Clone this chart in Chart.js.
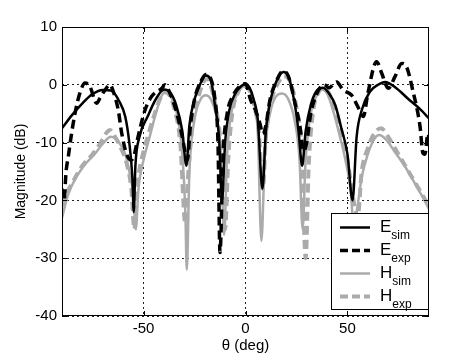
<!DOCTYPE html>
<html>
<head>
<meta charset="utf-8">
<script src="https://cdn.jsdelivr.net/npm/chart.js@4/dist/chart.umd.min.js"></script>
<style>
html,body{margin:0;padding:0;background:#fff;}
canvas{display:block;}
</style>
</head>
<body>
<canvas id="c" width="474" height="355"></canvas>
<script>
// ---- data (theta in degrees, magnitude in dB) ----
const xTicks = [-50, 0, 50];
const yTicks = [-40, -30, -20, -10, 0, 10];

const thetaEsim = [-90,-85,-80,-75,-70,-66,-62,-59,-57,-55.5,-54.8,-54,-52,-48,-44,-40,-37,-34,-31,-29,-27.5,-25,-22,-19.5,-17,-15,-13,-11.5,-10,-8,-5,-2,0,2,4,6,8.3,10,12,15,18.5,21,24,26,27.8,29.5,32,35,38,41,44,47,50,52.5,54.5,57,61,65,68.5,74,80,85,90];
const valEsim   = [-7.5,-5.2,-3.2,-1.6,-0.9,-1.0,-2.8,-5.5,-10,-16,-22,-14,-9,-5.5,-2.5,-0.8,-1.3,-3.5,-8,-14,-7,-2.5,0.3,1.6,0.8,-3.5,-9,-20,-10,-4.5,-1.5,-0.2,0.2,-0.5,-2.5,-6,-18,-8,-3,0.5,2.2,1.5,-3,-8,-14,-8,-3.5,-1,-0.5,-1.5,-3.5,-7.5,-12,-20,-9,-4.4,-1.2,0,0.5,-0.6,-2.5,-4,-5.8];

const thetaEexp = [-90,-89,-88,-86.9,-85.3,-83.6,-81.2,-78.7,-76.3,-73,-71.4,-68.9,-66.5,-64.8,-62.4,-60.7,-58.3,-56,-54.5,-52.7,-49.3,-46,-41,-39.5,-37,-34,-31,-28.5,-27,-25,-22,-19.5,-17,-15,-13.5,-12.5,-11,-9,-6,-3,0,2.5,5,7,8.5,10,12,15,18.5,21,24.3,26.7,28.5,30,32,35,38.5,41,44.7,47.9,52,56,57.8,60,64.3,66.8,70,73.3,76.6,79,82,85.6,87,88,89.5,90];
const valEexp   = [-18,-20,-15,-12.4,-8.4,-4.9,-1.4,0.3,-0.3,-3.2,-2.3,-0.9,0,-1.2,-4.4,-8.4,-12,-13,-12,-9,-4.4,-2,-0.6,0,-1.5,-4.5,-9,-13,-7,-2.5,0.5,1.8,1,-2.5,-10,-29,-12,-5,-1.8,-0.3,0.2,-2.6,-4.5,-6.6,-8.5,-7,-2.6,0.5,2.4,1.5,-3.2,-7.2,-11.5,-10,-5,-1.5,0,-0.5,0.5,-0.9,-1.8,-4.4,-5.5,-1.5,4,2,-0.6,1.4,3.7,3.1,-0.9,-7.2,-11.8,-12,-8.4,-9];

const thetaHsim = [-90,-87,-83,-78,-74,-70,-66,-62,-59,-57,-55,-53.8,-52.5,-50,-47,-44,-41,-39,-36,-33,-31,-29.5,-28.8,-27.5,-25,-22,-19.5,-17,-14,-12,-10.5,-9,-7,-4,-1,1,4,6,7.8,9.5,12,15,18,21,24,26.5,28,29.5,32,35,37.5,40,43,46,49,51.5,53,54.5,57,60,63,65.5,69,73,78,83,87,90];
const valHsim   = [-23,-19,-16,-13.5,-12,-10.2,-9,-10,-12,-15,-19,-25,-18,-13,-9,-5,-1.8,-1.2,-2.5,-6,-12,-22,-32,-15,-6,-2.5,-1.8,-2.5,-6,-12,-26,-12,-5,-1.5,-0.3,-0.5,-3,-8,-27,-12,-5,-2,-1.5,-2.5,-6,-13,-25,-13,-5,-1.8,-0.8,-1.5,-4.5,-8.5,-13,-18,-24,-22,-16,-12,-9.5,-8.7,-9.5,-11.5,-14,-17,-19.5,-21.5];

const thetaHexp = [-90,-88,-85,-80,-75,-71,-68,-66.5,-64,-61,-58,-56,-54.5,-53,-51,-48,-45,-42,-40,-38,-35,-32,-29.5,-28,-26,-23,-20,-18.5,-16,-14,-12,-10,-8.5,-6.5,-3.5,-0.5,2,4.5,6.5,8.5,10,12.5,15.5,19,22,25,27.5,29.5,31,33,36,38.5,41,44,47,50,53,55,57,60,63,66.5,70,75,80,85,90];
const valHexp   = [-21,-19,-17,-14,-12,-10,-8.2,-7.8,-9,-11,-14,-18,-25,-17,-13,-9,-5.5,-2.5,-1.3,-1.5,-4,-10,-24,-15,-7,-2,0.8,1,-1.5,-5,-11,-25,-13,-5,-1.2,0,-1,-4,-8,-18,-9,-3,0,1.5,0.5,-4,-11,-30,-14,-5,-1.2,-0.5,-1.5,-4,-8,-13,-20,-23,-15,-11,-8.5,-7.5,-9,-12,-15,-18,-21];

const GRAY = '#ababab';
const FONT = '"Liberation Sans", Arial, Helvetica, sans-serif';

function pts(t, v) { return t.map((x, i) => ({ x: x, y: v[i] })); }

const series = [
  { name: 'E', sub: 'sim', data: pts(thetaEsim, valEsim), color: '#000', width: 2.5, dash: [] },
  { name: 'E', sub: 'exp', data: pts(thetaEexp, valEexp), color: '#000', width: 3.5, dash: [9, 5] },
  { name: 'H', sub: 'sim', data: pts(thetaHsim, valHsim), color: GRAY, width: 2.5, dash: [] },
  { name: 'H', sub: 'exp', data: pts(thetaHexp, valHexp), color: GRAY, width: 4, dash: [9, 5] }
];

const framePlugin = {
  id: 'frame',
  afterDraw(chart) {
    const ctx = chart.ctx;
    const a = chart.chartArea;
    const xs = chart.scales.x, ys = chart.scales.y;
    ctx.save();
    ctx.strokeStyle = '#000';
    ctx.lineWidth = 1;
    ctx.setLineDash([]);
    ctx.strokeRect(Math.round(a.left) + 0.5, Math.round(a.top) + 0.5,
      Math.round(a.right - a.left) - 1, Math.round(a.bottom - a.top) - 1);
    ctx.beginPath();
    yTicks.forEach(v => {
      const y = Math.round(ys.getPixelForValue(v)) + 0.5;
      ctx.moveTo(a.left, y); ctx.lineTo(a.left + 5, y);
      ctx.moveTo(a.right - 5, y); ctx.lineTo(a.right, y);
    });
    xTicks.forEach(v => {
      const x = Math.round(xs.getPixelForValue(v)) + 0.5;
      ctx.moveTo(x, a.bottom); ctx.lineTo(x, a.bottom - 5);
      ctx.moveTo(x, a.top); ctx.lineTo(x, a.top + 5);
    });
    ctx.stroke();

    // legend box
    const bx = 331, by = 213, bw = 98, bh = 97;
    ctx.fillStyle = '#fff';
    ctx.fillRect(bx, by, bw, bh);
    ctx.strokeRect(bx + 0.5, by + 0.5, bw - 1, bh - 1);
    const rows = [227.5, 250.5, 273.5, 296.5];
    series.forEach((s, i) => {
      const y = rows[i];
      ctx.beginPath();
      ctx.strokeStyle = s.color;
      ctx.lineWidth = s.width;
      ctx.setLineDash(s.dash.length ? [8, 4] : []);
      ctx.moveTo(340, y); ctx.lineTo(370, y);
      ctx.stroke();
      ctx.setLineDash([]);
      ctx.fillStyle = '#000';
      ctx.textBaseline = 'alphabetic';
      ctx.textAlign = 'left';
      ctx.font = '17px ' + FONT;
      ctx.fillText(s.name, 380, y + 4.5);
      const w = ctx.measureText(s.name).width;
      ctx.font = '12px ' + FONT;
      ctx.fillText(s.sub, 380 + w, y + 11);
    });
    ctx.restore();
  }
};

new Chart(document.getElementById('c'), {
  type: 'line',
  data: {
    datasets: series.map(s => ({
      label: s.name + s.sub,
      data: s.data,
      borderColor: s.color,
      borderWidth: s.width,
      borderDash: s.dash,
      pointRadius: 0,
      fill: false,
      cubicInterpolationMode: 'monotone'
    }))
  },
  options: {
    responsive: false,
    animation: false,
    events: [],
    layout: { padding: { left: 0, right: 45, top: 27, bottom: 0 } },
    plugins: { legend: { display: false }, tooltip: { enabled: false } },
    scales: {
      x: {
        type: 'linear',
        min: -90, max: 90,
        afterBuildTicks: s => { s.ticks = xTicks.map(v => ({ value: v })); },
        afterFit: s => { s.height = 39; },
        ticks: { color: '#000', font: { family: FONT, size: 15 }, padding: 4, maxRotation: 0 },
        grid: { color: '#222', lineWidth: 1, drawTicks: false },
        border: { display: false, dash: [2, 3] },
        title: { display: true, text: 'θ (deg)', color: '#000', font: { family: FONT, size: 15 }, padding: { top: -3, bottom: 0 } }
      },
      y: {
        min: -40, max: 10,
        afterBuildTicks: s => { s.ticks = yTicks.map(v => ({ value: v })); },
        afterFit: s => { s.width = 62; },
        ticks: { color: '#000', font: { family: FONT, size: 15 }, padding: 5 },
        grid: { color: '#222', lineWidth: 1, drawTicks: false },
        border: { display: false, dash: [2, 3] },
        title: { display: true, text: 'Magnitude (dB)', color: '#000', font: { family: FONT, size: 14 }, padding: { top: 13, bottom: 0 } }
      }
    }
  },
  plugins: [framePlugin]
});
</script>
</body>
</html>
